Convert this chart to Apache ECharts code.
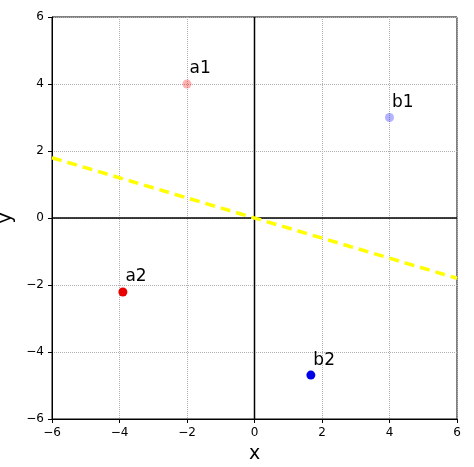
<!DOCTYPE html>
<html><head><meta charset="utf-8">
<script src="https://cdn.jsdelivr.net/npm/echarts@6/dist/echarts.min.js"></script>
<style>html,body{margin:0;padding:0;background:#fff}#c{width:474px;height:467px}</style>
</head><body><div id="c"></div>
<script>
const pointNames = ['a1','b1','a2','b2'];
const pointX = [-2, 4, -3.9, 1.67];
const pointY = [4, 3, -2.21, -4.69];
const pointColors = ['rgba(255,0,0,0.3)','rgba(0,0,255,0.3)','#e80000','#0000e8'];
const lineX = [-6, 6];
const lineY = [1.8, -1.8];

const chart = echarts.init(document.getElementById('c'));
const axisCommon = {
  min: -6, max: 6, interval: 2,
  axisLine: {onZero: false, lineStyle: {color: '#000'}},
  axisTick: {show: true, length: 4, lineStyle: {color: '#000'}},
  axisLabel: {color: '#000', fontSize: 12, fontFamily: 'DejaVu Sans', formatter: v => String(v).replace('-', '\u2212')},
  splitLine: {show: true, lineStyle: {color: '#b0b0b0', type: 'dotted'}},
  nameLocation: 'middle',
  nameTextStyle: {color: '#000', fontSize: 19, fontFamily: 'DejaVu Sans'}
};
chart.setOption({
  animation: false,
  grid: {left: 52, right: 17, top: 17, bottom: 48, show: true, borderColor: '#000', borderWidth: 1, containLabel: false, outerBoundsMode: 'none'},
  xAxis: Object.assign({}, axisCommon, {type: 'value', name: 'x', nameGap: 26}),
  yAxis: Object.assign({}, axisCommon, {type: 'value', name: 'y', nameGap: 32}),
  series: [
    {type: 'line', data: [[0,-6],[0,6]], symbol: 'none', lineStyle: {color: '#000', width: 1.5}, silent: true},
    {type: 'line', data: [[-6,0],[6,0]], symbol: 'none', lineStyle: {color: '#000', width: 1.5}, silent: true},
    {type: 'line', data: lineX.map((x,i)=>[x,lineY[i]]), symbol: 'none',
     lineStyle: {color: '#ffff00', width: 3.5, type: [10,6]}},
    {type: 'scatter', symbolSize: 9,
     data: pointNames.map((n,i)=>({value:[pointX[i],pointY[i]], name:n, itemStyle:{color:pointColors[i], opacity:1}})),
     label: {show: true, formatter: p=>p.name, position: [7,-19], color: '#000', opacity: 1, fontSize: 17, fontFamily: 'DejaVu Sans'}}
  ]
});
</script></body></html>
